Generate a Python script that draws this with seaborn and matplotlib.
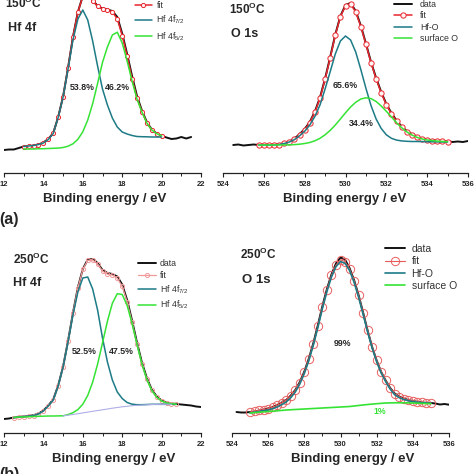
import numpy as np
import pandas as pd
import matplotlib.pyplot as plt
import seaborn as sns
from matplotlib.ticker import MultipleLocator

## XPS 데이터 (intensity, a.u.)

# (a) 150C, Hf 4f
hf150_data_e = np.arange(12.0, 21.51, 0.25)
hf150_data = [23, 23.5, 23.5, 25, 26.5, 26.5, 27.5, 28.5,
              30.5, 34, 40, 56, 76.5, 105, 136, 161,
              177, 178, 173, 167, 164.5, 163.5, 162, 156,
              139.5, 119, 97, 77, 62.5, 51, 43.5, 39.5,
              37, 35.5, 34, 34.5, 36, 34.5, 36]
hf150_e = np.arange(13.0, 20.01, 0.25)
hf150_fit = [26.5, 27, 27.5, 28.5, 30, 33.7, 39.7, 55.7,
             76.5, 105.3, 136.2, 160.9, 176.7, 177.7, 172.3, 166.7,
             164.1, 162.8, 161, 154.1, 137.5, 116.8, 94.5, 75.1,
             61.5, 50.3, 43.1, 39.3, 37.4]
hf150_p1 = [26.5, 27, 27.5, 28.5, 30, 33.5, 39.5, 55.5,
            76, 104, 133, 154, 163, 153, 132, 107,
            84, 68, 55, 46, 41, 39, 37.5, 36.5,
            36.3, 36.2, 36, 36, 36]
hf150_p2 = [24, 24, 24, 24.2, 24.3, 24.5, 24.7, 24.9,
            25.5, 26.8, 29.2, 33.7, 41.2, 52.9, 69.3, 89.5,
            110.6, 126, 138, 140.8, 130, 112, 92, 74,
            61, 50, 43.1, 39.3, 37.4]

# (a) 150C, O 1s
o150_data_e = np.arange(524.5, 536.01, 0.25)
o150_data = [28, 28.5, 27.5, 28, 28.5,
             28, 28.3, 28, 28.5, 28.8, 29.8, 31.5, 34.5, 38.8, 44,
             51, 61.5, 75.5, 94.5, 116, 138.5, 157, 168, 170, 162,
             147.5, 129.5, 111, 95, 81, 69, 60, 52.5, 46.5, 42,
             38.8, 36.5, 34.6, 33.5, 32.8, 32.2, 31.8, 31.5,
             31, 31.5, 31, 32]
o150_e = np.arange(525.75, 535.01, 0.25)
o150_fit = [28, 28, 28, 28.1, 28.5, 29.6, 31.2, 33.8, 38, 43.2,
            50.5, 60.7, 74.7, 93.7, 115, 137.8, 156.4, 167.2, 169, 161,
            146.5, 128.7, 110.4, 94, 80, 68.4, 59.2, 51.7, 45.9, 41.4,
            38.2, 35.9, 34.2, 33.2, 32.5, 32.1, 31.6, 31.3]
o150_p1 = [28, 28, 28, 28, 28.4, 29.5, 31, 33.4, 37.2, 41.7,
           48, 56.5, 68, 84, 101.3, 119, 132, 137, 133, 121,
           103.5, 84.7, 67.4, 54, 44.5, 38.2, 34.7, 32.9, 32.1, 31.7,
           31.5, 31.5, 31.4, 31.3, 31.2, 31.1, 31, 31]
o150_p2 = [28, 28, 28, 28.1, 28.1, 28.1, 28.2, 28.4, 28.8, 29.5,
           30.5, 32.2, 34.7, 38.2, 42.6, 48, 54, 60.2, 66, 70.7,
           74, 75.2, 74.4, 71.5, 67, 61.7, 56, 50.3, 45.3, 41.2,
           38, 35.7, 34, 33, 32.4, 31.9, 31.5, 31.3]

# (b) 250C, Hf 4f
hf250_data_e = np.arange(12.0, 22.01, 0.25)
hf250_data = [14, 14.5, 15.5, 16, 16.5, 17, 17.8, 19.3,
              22.5, 27.5, 33.5, 47.5, 66.5, 92, 120, 145.5,
              164, 173.5, 174, 170, 163, 160, 159, 156.5,
              148.5, 133, 112.5, 90.5, 70.5, 55, 43.5, 36.5,
              32.5, 30.5, 29.5, 29, 28.5, 28, 27.5, 26.5, 26]
hf250_e = np.arange(12.5, 20.76, 0.25)
hf250_fit = [15.5, 16, 16.5, 17, 17.5, 19,
             22, 27, 33, 47, 66.2, 91.7, 119.8, 145,
             163.7, 172.6, 173.1, 169.1, 162, 158.8, 157.9, 154.8,
             146.8, 131.3, 110.9, 88.9, 69, 53.9, 42.7, 35.8,
             32, 30.1, 29.2, 28.8]
hf250_p1 = [15.5, 16, 16.5, 17, 17.5, 19,
            22, 27, 33, 47, 66, 91, 118, 141,
            155, 156, 144, 123, 95, 71, 53, 41,
            34.5, 30.5, 28.8, 28.3, 28.3, 28.5, 28.7, 28.7,
            28.7, 28.7, 28.7, 28.7]
hf250_p2 = [15.5, 16, 16, 16.3, 16.5, 16.7,
            16.8, 17, 17, 17.1, 17.2, 18.4, 20.3, 23.4,
            28.8, 37.5, 50.8, 68.8, 90.1, 111.8, 129.7, 139.3,
            138.5, 127.6, 109.4, 88.6, 69, 53.5, 42.5, 35.8,
            32, 30.1, 29.2, 28.8]
hf250_bg_e = np.arange(15.0, 20.51, 0.5)
hf250_bg = [17.2, 18.5, 20.1, 21.7, 23.2, 24.8, 26.2, 27.3, 28, 28.5, 28.7, 28.7]

# (b) 250C, O 1s
o250_data_e = np.arange(524.25, 536.01, 0.25)
o250_data = [21, 20.5, 20.5,
             21, 21.5, 22.5, 23.5, 24.5, 26, 28, 30.5, 33, 37.5,
             43, 51, 61.5, 74.5, 90, 108, 127, 144, 158.5, 169.5,
             175.5, 173.5, 165, 153, 138, 120.5, 102.5, 86, 72.5, 61,
             52.5, 45, 39.5, 36.5, 34.5, 33, 32, 31.2, 30.5, 30.2, 30,
             29.5, 28.5, 29, 28.3]
o250_e = np.arange(525.0, 535.01, 0.25)
o250_fit = [21, 21.8, 22.7, 23.5, 24.3, 25.8, 27.7, 30, 32.7, 37,
            42.7, 50.5, 61, 74, 89.3, 107, 126, 143, 157.7, 168,
            173.3, 171.5, 164.3, 152.5, 137.7, 120.5, 102.7, 86.5, 72.7, 61.5,
            52.7, 45, 39.3, 36.3, 34.3, 33, 32, 31.3, 30.7, 30.3, 30]
o250_p1 = [20, 20.8, 21.5, 22.3, 23, 24.3, 26, 28.3, 31, 35.3,
           41, 49, 59.5, 72.5, 88, 105.5, 124.5, 141.5, 156, 166.3,
           171.5, 169.7, 162.5, 150.7, 135.8, 118.7, 101, 85, 71.2, 60,
           51.3, 43.8, 38.2, 35.3, 33.5, 32.3, 31.4, 30.8, 30.3, 30, 29.7]
o250_p2_e = np.arange(525.0, 535.01, 0.5)
o250_p2 = [20, 20.8, 21.5, 22.2, 23, 23.5, 24, 24.5, 25, 25.5,
           26, 26.5, 27.5, 28.5, 29.3, 30, 30.2, 30.2, 30, 29.6, 29.3]

## 색상
BLACK = '#111111'
RED = '#e8262d'
TEAL = '#1d7b86'
GREEN = '#35e335'
PINK = '#f19a9a'
LAVENDER = '#aeaee8'

sns.set_style('white')
plt.rcParams['font.family'] = ['Liberation Sans', 'DejaVu Sans']
plt.rcParams['mathtext.fontset'] = 'custom'
plt.rcParams['mathtext.rm'] = 'Liberation Sans'
plt.rcParams['mathtext.bf'] = 'Liberation Sans:bold'

W = H = 474
fig = plt.figure(figsize=(4.74, 4.74), dpi=100)


def make_axes(x0, x1, y_axis, y_top, xlim, label_x):
    ax = fig.add_axes([x0 / W, 1 - y_axis / H, (x1 - x0) / W, (y_axis - y_top) / H])
    ax.patch.set_alpha(0)
    ax.set_xlim(*xlim)
    ax.set_ylim(0, y_axis - y_top)
    for s in ['top', 'left', 'right']:
        ax.spines[s].set_visible(False)
    ax.spines['bottom'].set_linewidth(0.9)
    ax.spines['bottom'].set_color('#222222')
    ax.set_yticks([])
    ax.xaxis.set_major_locator(MultipleLocator(2))
    ax.xaxis.set_minor_locator(MultipleLocator(1))
    ax.tick_params(axis='x', which='major', direction='out', length=3, width=0.8,
                   pad=2.5, labelsize=5.5, color='#222222', bottom=True)
    ax.tick_params(axis='x', which='minor', direction='out', length=1.8, width=0.7,
                   color='#222222', bottom=True)
    for t in ax.get_xticklabels():
        t.set_fontweight('bold')
    ax.set_xlabel('Binding energy / eV', fontsize=9.5, fontweight='bold')
    ax.xaxis.set_label_coords(label_x, -20 / (y_axis - y_top))
    return ax


def line(ax, x, y, color, lw=1.1, label=None, **kw):
    sns.lineplot(x=x, y=y, ax=ax, color=color, lw=lw, label=label,
                 estimator=None, sort=False, legend=False, **kw)


def legend(ax, x_px, top_px, fs, hl, htp, ls):
    ax.legend(loc='upper left', bbox_to_anchor=(x_px / W, 1 - top_px / H),
              bbox_transform=fig.transFigure, frameon=False, fontsize=fs,
              handlelength=hl, handletextpad=htp, labelspacing=ls,
              borderpad=0, borderaxespad=0, labelcolor='#333333')


def ftext(x, y, s, **kw):
    fig.text(x / W, 1 - y / H, s, **kw)


## (a) Hf 4f 150C
ax1 = make_axes(4, 201, 173, 0, (12, 22), 0.51)
line(ax1, hf150_data_e, hf150_data, BLACK, lw=1.4, label='data')
line(ax1, hf150_e, hf150_fit, RED, lw=1.1, label='fit', marker='o', markersize=3,
     markerfacecolor='#fff4f4', markeredgecolor=RED, markeredgewidth=0.7)
line(ax1, hf150_e, hf150_p1, TEAL, label='Hf 4f$_{7/2}$')
line(ax1, hf150_e, hf150_p2, GREEN, label='Hf 4f$_{5/2}$')
legend(ax1, 135, -12, 6.3, 1.9, 0.55, 0.45)
ftext(5, 8, r'150$^{\mathbf{O}}$C', fontsize=8.5, fontweight='bold', va='baseline')
ftext(8, 31, 'Hf 4f', fontsize=9, fontweight='bold', va='baseline')
ftext(82.5, 88, '53.8%', fontsize=6.3, fontweight='bold', ha='center', va='center')
ftext(117.5, 88, '46.2%', fontsize=6.3, fontweight='bold', ha='center', va='center')

## (a) O 1s 150C
ax2 = make_axes(223, 468, 173, 0, (524, 536), 0.498)
line(ax2, o150_data_e, o150_data, BLACK, lw=1.4, label='data')
line(ax2, o150_e, o150_fit, RED, lw=1.1, label='fit', marker='o', markersize=3.8,
     markerfacecolor='#fff4f4', markeredgecolor=RED, markeredgewidth=0.7)
line(ax2, o150_e, o150_p1, TEAL, label='Hf-O')
line(ax2, o150_e, o150_p2, GREEN, label='surface O')
legend(ax2, 394, 0, 6.3, 2.05, 0.9, 0.28)
ftext(229, 14, r'150$^{\mathbf{O}}$C', fontsize=8.5, fontweight='bold', va='baseline')
ftext(231, 37, 'O 1s', fontsize=9, fontweight='bold', va='baseline')
ftext(345, 85, '65.6%', fontsize=6.3, fontweight='bold', ha='center', va='center')
ftext(361, 123, '34.4%', fontsize=6.3, fontweight='bold', ha='center', va='center')

ftext(-1, 212, '(a)', fontsize=11.5, fontweight='bold', va='top')

## (b) Hf 4f 250C
ax3 = make_axes(4, 201, 433, 237, (12, 22), 0.558)
line(ax3, hf250_data_e, hf250_data, BLACK, lw=1.4, label='data')
line(ax3, hf250_e, hf250_fit, PINK, lw=0.9, label='fit', marker='o', markersize=3,
     markerfacecolor='none', markeredgecolor=PINK, markeredgewidth=0.7)
line(ax3, hf250_e, hf250_p1, TEAL, label='Hf 4f$_{7/2}$')
line(ax3, hf250_e, hf250_p2, GREEN, label='Hf 4f$_{5/2}$')
line(ax3, hf250_bg_e, hf250_bg, LAVENDER, lw=0.8)
legend(ax3, 138, 259, 6.3, 2.1, 0.4, 0.35)
ftext(13, 264, r'250$^{\mathbf{O}}$C', fontsize=8.5, fontweight='bold', va='baseline')
ftext(13, 286, 'Hf 4f', fontsize=9, fontweight='bold', va='baseline')
ftext(84.5, 352, '52.5%', fontsize=6.3, fontweight='bold', ha='center', va='center')
ftext(121, 352, '47.5%', fontsize=6.3, fontweight='bold', ha='center', va='center')

## (b) O 1s 250C
ax4 = make_axes(232, 449, 433, 237, (524, 536), 0.558)
line(ax4, o250_data_e, o250_data, BLACK, lw=1.4, label='data')
line(ax4, o250_e, o250_fit, '#e85a5a', lw=0.8, label='fit', marker='o', markersize=6,
     markerfacecolor='none', markeredgecolor='#e86060', markeredgewidth=0.7)
line(ax4, o250_e, o250_p1, TEAL, lw=1.2, label='Hf-O')
line(ax4, o250_p2_e, o250_p2, GREEN, lw=1.2, label='surface O')
legend(ax4, 385, 244, 7.5, 1.9, 0.65, 0.22)
ftext(240, 259, r'250$^{\mathbf{O}}$C', fontsize=8.5, fontweight='bold', va='baseline')
ftext(242, 283, 'O 1s', fontsize=9.5, fontweight='bold', va='baseline')
ftext(343, 344, '99%', fontsize=6.3, fontweight='bold', ha='center', va='center')
ftext(380, 411, '1%', fontsize=6.3, fontweight='bold', ha='center', va='center', color=GREEN)

ftext(-1, 467, '(b)', fontsize=11.5, fontweight='bold', va='top')

plt.savefig('out.png', dpi=100)
